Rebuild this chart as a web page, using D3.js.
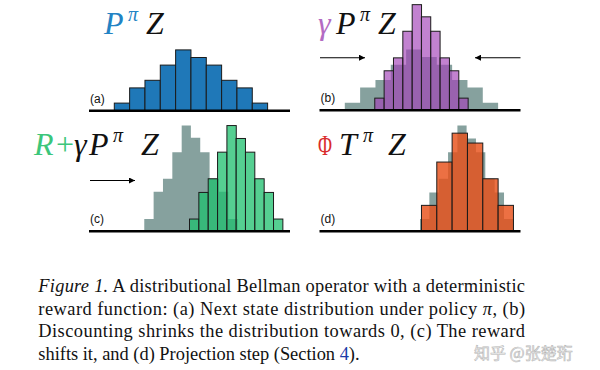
<!DOCTYPE html>
<html><head><meta charset="utf-8">
<script src="https://cdn.jsdelivr.net/npm/d3@7"></script>
<style>html,body{margin:0;padding:0;background:#fff;}svg{display:block;}</style>
</head><body>
<svg id="chart" width="600" height="370"></svg>
<script>
// ---- data (returns on x, density on y) ----
const atomsA = [-4.5,-3.5,-2.5,-1.5,-0.5,0.5,1.5,2.5,3.5,4.5];
const probsA = [1,3,4,6,8,7,6,4,3,1];
const widthA = 1.0;
const atomsB = [-2.74,-2.13,-1.52,-0.91,-0.30,0.30,0.91,1.52,2.13,2.74];
const probsB = [1.6,5.2,6.9,10.4,13.9,12.3,10.4,6.9,5.2,1.6];
const widthB = 0.61;
const atomsC = [0.21,0.82,1.43,2.04,2.65,3.25,3.86,4.47,5.08,5.69];
const probsC = [1.6,5.1,6.9,10.4,13.9,12.2,10.4,6.9,5.1,1.6];
const widthC = 0.61;
const atomsD = [0.5,1.5,2.5,3.5,4.5,5.5];
const probsD = [3.4,9.1,12.9,11.6,6.9,3.4];
const widthD = 1.0;
const panelLabels = ["(a)","(b)","(c)","(d)"];
const captionLines = [
  "A distributional Bellman operator with a deterministic",
  "reward function: (a) Next state distribution under policy ",
  "Discounting shrinks the distribution towards 0, (c) The reward",
  "shifts it, and (d) Projection step (Section "
];

const svg = d3.select("#chart");
const W = 201;
const x = d3.scaleLinear().domain([-6.65, 6.46]).range([0, W]);
const h = d3.scaleLinear().domain([0, 1]).range([0, 7.6]);

const panels = [
  {left: 89,    base: 110.7},
  {left: 319.5, base: 110.3},
  {left: 89,    base: 231.2},
  {left: 319.5, base: 231.2}
];

function bars(atoms, probs, width){
  return atoms.map((a,i)=>({x0:a-width/2, x1:a+width/2, p:probs[i]}));
}
function drawGray(g, data){
  const pts = data.map(d=>({x:d.x0, p:d.p}));
  pts.push({x:data[data.length-1].x1, p:0});
  const area = d3.area().curve(d3.curveStepAfter)
    .x(d=>x(d.x)).y0(0).y1(d=>-h(d.p));
  g.append("path").attr("d", area(pts)).attr("fill", "#86a19e");
}
function drawBars(g, data, fill, op){
  g.selectAll(null).data(data).join("rect")
    .attr("x", d=>x(d.x0)).attr("width", d=>x(d.x1)-x(d.x0))
    .attr("y", d=>-h(d.p)).attr("height", d=>h(d.p))
    .attr("fill", fill).attr("fill-opacity", op)
    .attr("stroke", "#1b1b1b").attr("stroke-width", 1);
}

const dA = bars(atomsA, probsA, widthA);
const dB = bars(atomsB, probsB, widthB);
const dC = bars(atomsC, probsC, widthC);
const dD = bars(atomsD, probsD, widthD);

const gs = panels.map(p => svg.append("g").attr("transform", `translate(${p.left},${p.base})`));

drawBars(gs[0], dA, "#1f78b8", 1);
drawGray(gs[1], dA);
drawBars(gs[1], dB, "#a241b8", 0.66);
drawGray(gs[2], dB);
drawBars(gs[2], dC, "#1fc06e", 0.76);
drawGray(gs[3], dC);
drawBars(gs[3], dD, "#e8501a", 0.82);

gs.forEach((g,i)=>{
  g.append("line").attr("x1",0).attr("x2",W).attr("y1",0).attr("y2",0)
    .attr("stroke","#000").attr("stroke-width",2.6);
  g.append("text").text(panelLabels[i]).attr("x", 1).attr("y", -8)
    .attr("font-family","'Liberation Sans', Arial, sans-serif").attr("font-size",12).attr("fill","#111");
});

const defs = svg.append("defs");
defs.append("marker").attr("id","ah").attr("viewBox","0 0 10 10").attr("refX",10).attr("refY",5)
  .attr("markerWidth",8).attr("markerHeight",6).attr("markerUnits","userSpaceOnUse").attr("orient","auto")
  .append("path").attr("d","M0,0L10,5L0,10z").attr("fill","#000");
function arrow(x1,y1,x2,y2){
  svg.append("line").attr("x1",x1).attr("y1",y1).attr("x2",x2).attr("y2",y2)
    .attr("stroke","#000").attr("stroke-width",1.1).attr("marker-end","url(#ah)");
}
arrow(320,57.7,365,57.7);
arrow(520.5,57.7,475,57.7);
arrow(90,180.5,135,180.5);

const mf = "'Liberation Serif', 'Times New Roman', serif";
function glyph(t, gx, gy, size, color, italic, tl){
  const s = svg.append("text").text(t).attr("x",gx).attr("y",gy).attr("font-family",mf)
    .attr("font-size",size).attr("font-style", italic? "italic":"normal").attr("fill",color);
  if (tl) s.attr("textLength", tl).attr("lengthAdjust","spacingAndGlyphs");
}
// (a) P^π Z
glyph("P",104,34.3,32,"#2383c4",true);
glyph("π",128,21,20,"#2383c4",true);
glyph("Z",146,34.3,32,"#111",true);
// (b) γ P^π Z
glyph("γ",318,34.3,32,"#b36bc3",true);
glyph("P",336,34.3,32,"#111",true);
glyph("π",360,21,20,"#111",true);
glyph("Z",378,34.3,32,"#111",true);
// (c) R + γ P^π Z
glyph("R",34,155,32,"#3cc67a",true);
glyph("+",56,155,32,"#3cc67a",false);
glyph("γ",74,155,32,"#111",true);
glyph("P",89,155,32,"#111",true);
glyph("π",113,142,20,"#111",true);
glyph("Z",141,155,32,"#111",true);
// (d) Φ T^π Z
glyph("Φ",318,155,30,"#d92b2b",false,14);
glyph("T",339,155,32,"#111",true);
glyph("π",363,142,20,"#111",true);
glyph("Z",388,155,32,"#111",true);

const cf = "'Liberation Serif', 'Times New Roman', serif";
const fs = 18.4;
const capX = 38.3, capR = 525, capY = [292, 314.7, 337.3, 360];
const c1 = svg.append("text").attr("x",capX).attr("y",capY[0]).attr("font-family",cf).attr("font-size",fs)
  .attr("fill","#111").attr("textLength",capR-capX).attr("lengthAdjust","spacing");
c1.append("tspan").attr("font-style","italic").text("Figure 1.");
c1.append("tspan").text(" " + captionLines[0]);
const c2 = svg.append("text").attr("x",capX).attr("y",capY[1]).attr("font-family",cf).attr("font-size",fs)
  .attr("fill","#111").attr("textLength",capR-capX).attr("lengthAdjust","spacing");
c2.append("tspan").text(captionLines[1]);
c2.append("tspan").attr("font-style","italic").text("π");
c2.append("tspan").text(", (b)");
svg.append("text").attr("x",capX).attr("y",capY[2]).attr("font-family",cf).attr("font-size",fs)
  .attr("fill","#111").attr("textLength",capR-capX).attr("lengthAdjust","spacing").text(captionLines[2]);
const c4 = svg.append("text").attr("x",capX).attr("y",capY[3]).attr("font-family",cf).attr("font-size",fs).attr("fill","#111");
c4.append("tspan").text(captionLines[3]);
c4.append("tspan").attr("fill","#1a3aa8").text("4");
c4.append("tspan").text(").");

svg.append("text").attr("x",474).attr("y",359).attr("font-family","'Noto Sans CJK SC', sans-serif")
  .attr("font-size",16).attr("fill","#f2f2f2").attr("stroke","#b8b8b8").attr("stroke-width",0.6)
  .text("知乎 @张楚珩");
</script>
</body></html>
